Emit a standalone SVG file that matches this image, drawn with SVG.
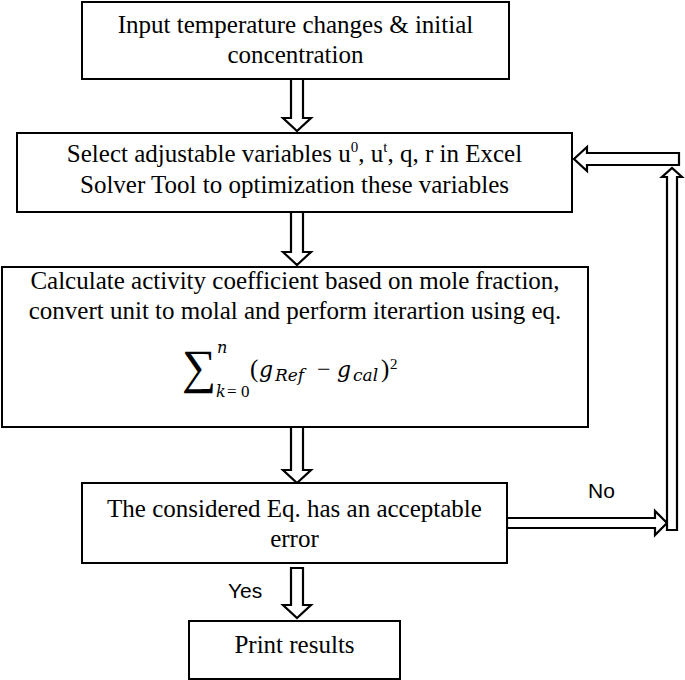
<svg xmlns="http://www.w3.org/2000/svg" width="685" height="680" viewBox="0 0 685 680">
<style>
.box{fill:#fff;stroke:#000;stroke-width:2}
.arr{fill:#fff;stroke:#000;stroke-width:2.2;stroke-linejoin:miter}
.t{font-family:"Liberation Serif","Times New Roman",serif;font-size:25px;fill:#000;text-anchor:middle}
.s{font-family:"Liberation Sans",Arial,sans-serif;font-size:21px;fill:#000}
.m{font-family:"Liberation Serif","Times New Roman",serif;fill:#000}
.v{font-family:"DejaVu Serif",serif;font-style:italic;fill:#000}
</style>
<rect width="685" height="680" fill="#fff"/>
<g id="connectors">
<path class="arr" d="M291,79 L291,118 L283,118 L297,131 L311,118 L303,118 L303,79 Z"/>
<path class="arr" d="M291,212 L291,252 L283,252 L297,265 L311,252 L303,252 L303,212 Z"/>
<path class="arr" d="M291,427 L291,470 L283,470 L297,483 L311,470 L303,470 L303,427 Z"/>
<path class="arr" d="M291,568 L291,605 L283,605 L297,618 L311,605 L303,605 L303,568 Z"/>
<path class="arr" d="M507,518 L655,518 L655,511 L667,523 L655,535 L655,528 L507,528 Z"/>
<path class="arr" d="M667,530 L667,177 L662,177 L672,168 L682,177 L677,177 L677,530 Z"/>
<path class="arr" d="M679,153 L587,153 L587,147 L574,159 L587,171 L587,165 L679,165 Z"/>
<text class="s" x="588" y="498">No</text>
<text class="s" x="228" y="598">Yes</text>
</g>
<g id="n1">
<rect class="box" x="82" y="2" width="427" height="77"/>
<text class="t" x="295.5" y="33">Input temperature changes &amp; initial</text>
<text class="t" x="295.5" y="63">concentration</text>
</g>
<g id="n2">
<rect class="box" x="17" y="133" width="555" height="79"/>
<text class="t" x="294.5" y="162">Select adjustable variables u<tspan font-size="15" dy="-10">0</tspan><tspan dy="10">, u</tspan><tspan font-size="15" dy="-10">t</tspan><tspan dy="10">, q, r in Excel</tspan></text>
<text class="t" x="294.5" y="193">Solver Tool to optimization these variables</text>
</g>
<g id="n3">
<rect class="box" x="2" y="267" width="586" height="160"/>
<text class="t" x="295" y="289">Calculate activity coefficient based on mole fraction,</text>
<text class="t" x="295" y="319">convert unit to molal and perform iterartion using eq.</text>
<text class="m" x="182" y="383" font-size="48">∑</text>
<text class="v" x="217" y="353" font-size="16">n</text>
<text class="v" x="216" y="397" font-size="16">k</text>
<text class="m" x="227" y="397" font-size="17">=</text>
<text class="m" x="241" y="397" font-size="17">0</text>
<text class="m" x="250" y="377" font-size="25">(</text>
<text class="v" x="259" y="377" font-size="22">g</text>
<text class="v" x="275" y="381" font-size="17">Ref</text>
<text class="m" x="317" y="377" font-size="24">−</text>
<text class="v" x="337" y="377" font-size="22">g</text>
<text class="v" x="353" y="381" font-size="17">cal</text>
<text class="m" x="381" y="377" font-size="25">)</text>
<text class="m" x="390" y="369" font-size="15">2</text>
</g>
<g id="n4">
<rect class="box" x="82" y="483" width="425" height="80"/>
<text class="t" x="294.5" y="517">The considered Eq. has an acceptable</text>
<text class="t" x="294.5" y="547">error</text>
</g>
<g id="n5">
<rect class="box" x="189" y="621" width="211" height="58"/>
<text class="t" x="294.5" y="653">Print results</text>
</g>
</svg>
